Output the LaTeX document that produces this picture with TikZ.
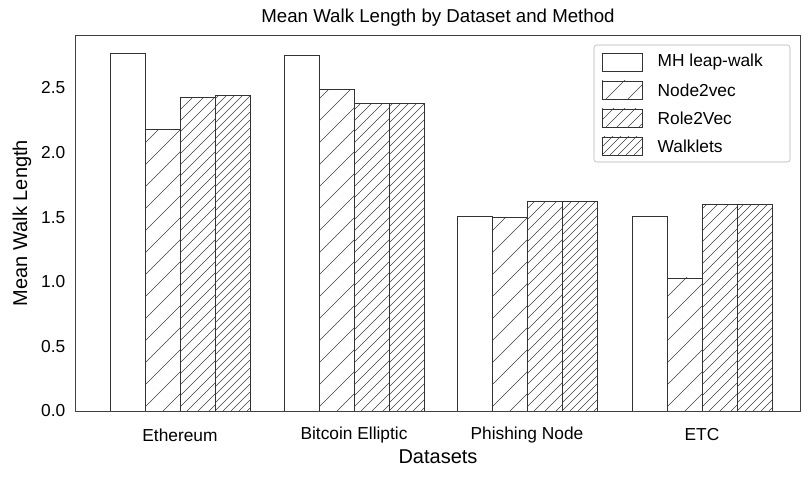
\documentclass[tikz,border=0pt]{standalone}
\usepackage{fontspec}
\setmainfont{Liberation Sans}
\begin{document}
\begin{tikzpicture}[x=0.75pt,y=-0.75pt,
  barline/.style={draw=black!80,line width=0.6pt},
  hatchline/.style={draw=black!75,line width=0.45pt},
  tick/.style={font=\fontsize{13}{15}\selectfont,anchor=east},
  xtick/.style={font=\fontsize{13}{15}\selectfont,anchor=center}]
\useasboundingbox (0,0) rectangle (811,478);
\def\ybase{411}
\def\sc{129.2}
\newcommand\mybar[3]{%
  \pgfmathsetmacro\ytop{\ybase-#2*\sc}
  \pgfmathsetmacro\xz{#1}
  \fill[white] (\xz,\ybase) rectangle (\xz+35,\ytop);
  \ifnum#3>0
  \pgfmathtruncatemacro\secv{-400+#3}
  \begin{scope}
    \clip (\xz,\ybase) rectangle (\xz+35,\ytop);
    \foreach \k in {-400,\secv,...,40}{\draw[hatchline] (\xz+\k,\ybase) -- (\xz+\k+420,\ybase-420);}
  \end{scope}
  \fi
  \draw[barline] (\xz,\ybase) rectangle (\xz+35,\ytop);}
\foreach \g/\a/\b/\c/\d in {110/2.77/2.18/2.43/2.44, 284/2.75/2.49/2.38/2.38, 457/1.51/1.50/1.62/1.62, 632/1.51/1.03/1.60/1.60}{
  \mybar{\g}{\a}{0}
  \mybar{\g+35}{\b}{22}
  \mybar{\g+70}{\c}{11}
  \mybar{\g+105}{\d}{8}
}
\draw[black!75,line width=0.7pt] (75,35) rectangle (800,411);
\foreach \v/\s in {0.0/0.0,0.5/0.5,1.0/1.0,1.5/1.5,2.0/2.0,2.5/2.5}{
  \node[tick] (t\v) at (70,{\ybase-\v*\sc}) {\s};}
\node[xtick] (l1) at (180,435) {Ethereum};
\node[xtick] (l2) at (354,435) {Bitcoin Elliptic};
\node[xtick] (l3) at (527,435) {Phishing Node};
\node[xtick] (l4) at (702,435) {ETC};
\node[font=\fontsize{15}{17}\selectfont] (xl) at (438,457) {Datasets};
\node[font=\fontsize{15}{17}\selectfont,rotate=90] (yl) at (22,223) {Mean Walk Length};
\node[font=\fontsize{14}{16}\selectfont] (ti) at (438,18) {Mean Walk Length by Dataset and Method};
\draw[black!30,fill=white,rounded corners=2pt] (594,45) rectangle (790,162);
\foreach \i/\t/\s in {0/MH leap-walk/0,1/Node2vec/22,2/Role2Vec/11,3/Walklets/8}{
  \pgfmathsetmacro\yc{62+28*\i}
  \fill[white] (602,\yc-9) rectangle (642,\yc+9);
  \ifnum\s>0
  \pgfmathtruncatemacro\secl{-40+\s}
  \begin{scope}\clip (602,\yc-9) rectangle (642,\yc+9);
  \foreach \k in {-40,\secl,...,40}{\draw[hatchline] (602+\k,\yc+9) -- (602+\k+60,\yc-51);}
  \end{scope}\fi
  \draw[barline] (602,\yc-9) rectangle (642,\yc+9);
  \node[anchor=west,font=\fontsize{13}{15}\selectfont] (lg\i) at (653,\yc) {\t};
}
\end{tikzpicture}
\end{document}
